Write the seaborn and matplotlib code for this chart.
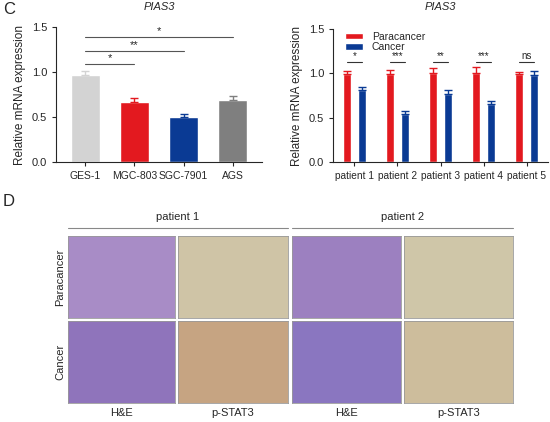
import matplotlib
matplotlib.use("Agg")
import matplotlib.pyplot as plt
import seaborn as sns
import pandas as pd
import numpy as np

cell_lines = ["GES-1", "MGC-803", "SGC-7901", "AGS"]
cell_values = [0.97, 0.67, 0.50, 0.69]
cell_errors = [0.04, 0.04, 0.03, 0.04]
cell_colors = ["#d3d3d3", "#e3191f", "#0a3a94", "#7f7f7f"]
cell_sig = [(0, 1, "*", 1.09), (0, 2, "**", 1.23), (0, 3, "*", 1.39)]

patients = ["patient 1", "patient 2", "patient 3", "patient 4", "patient 5"]
para_values = [0.99, 0.99, 1.00, 1.00, 0.99]
para_errors = [0.04, 0.05, 0.06, 0.07, 0.02]
cancer_values = [0.81, 0.54, 0.77, 0.65, 0.98]
cancer_errors = [0.04, 0.03, 0.04, 0.04, 0.05]
patient_sig = ["*", "***", "**", "***", "ns"]

tissue_rows = ["Paracancer", "Cancer"]
tissue_cols = ["H&E", "p-STAT3", "H&E", "p-STAT3"]
tissue_colors = [["#a88cc6", "#cfc4a6", "#9c80c0", "#cfc6a8"],
                 ["#8f74bb", "#c6a482", "#8a76c0", "#cdbd9c"]]

sns.set_style("ticks")
plt.rcParams["font.family"] = ["Liberation Sans", "DejaVu Sans"]

W, H = 550, 422
fig = plt.figure(figsize=(W / 100, H / 100), dpi=100)


def px_axes(x0, y0, x1, y1):
    return fig.add_axes([x0 / W, 1 - y1 / H, (x1 - x0) / W, (y1 - y0) / H])


# ---- panel C left
ax1 = px_axes(56, 27, 262, 162)
df1 = pd.DataFrame({"line": cell_lines, "value": cell_values})
sns.barplot(data=df1, x="line", y="value", hue="line", palette=cell_colors,
            legend=False, width=0.6, saturation=1, ax=ax1)
for i, (v, e, c) in enumerate(zip(cell_values, cell_errors, cell_colors)):
    ax1.errorbar(i, v, yerr=[[0], [e]], color=c, capsize=3, lw=1)
for a, b, s, y in cell_sig:
    ax1.plot([a, b], [y, y], color="#555555", lw=0.8, clip_on=False)
    ax1.text((a + b) / 2, y + 0.01, s, ha="center", va="bottom", fontsize=8)
ax1.set_ylim(0, 1.5)
ax1.set_yticks([0, 0.5, 1.0, 1.5])
ax1.set_xlim(-0.6, 3.6)
ax1.set_xlabel("")
ax1.set_ylabel("Relative mRNA expression", fontsize=8.5)
ax1.tick_params(axis="y", labelsize=8, length=3)
ax1.tick_params(axis="x", labelsize=7.5, length=3)
ax1.set_title("PIAS3", fontsize=8, style="italic", pad=12)
sns.despine(ax=ax1)

# ---- panel C right
ax2 = px_axes(333, 29, 548, 162)
df2 = pd.DataFrame({
    "patient": patients * 2,
    "value": para_values + cancer_values,
    "group": ["Paracancer"] * 5 + ["Cancer"] * 5,
})
sns.barplot(data=df2, x="patient", y="value", hue="group",
            palette=["#e3191f", "#0a3a94"], width=0.7, gap=0.45,
            saturation=1, ax=ax2)
for i in range(len(patients)):
    ax2.errorbar(i - 0.175, para_values[i], yerr=[[0], [para_errors[i]]],
                 color="#e3191f", capsize=3, lw=1)
    ax2.errorbar(i + 0.175, cancer_values[i], yerr=[[0], [cancer_errors[i]]],
                 color="#0a3a94", capsize=3, lw=1)
    ax2.plot([i - 0.175, i + 0.175], [1.13, 1.13], color="#333333", lw=0.8)
    ax2.text(i, 1.14, patient_sig[i], ha="center", va="bottom", fontsize=7)
ax2.set_ylim(0, 1.5)
ax2.set_yticks([0, 0.5, 1.0, 1.5])
ax2.set_xlabel("")
ax2.set_ylabel("Relative mRNA expression", fontsize=8.5)
ax2.tick_params(axis="y", labelsize=8, length=3)
ax2.tick_params(axis="x", labelsize=7.3, length=3)
ax2.set_title("PIAS3", fontsize=8, style="italic", pad=14)
ax2.legend(loc="upper left", bbox_to_anchor=(0.03, 1.02), frameon=False,
           fontsize=7.5, handlelength=1.8, handleheight=0.6,
           borderaxespad=0.1, labelspacing=0.05)
sns.despine(ax=ax2)

fig.text(0.005, 1 - 10 / H, "C", fontsize=12, va="center")
fig.text(0.005, 1 - 202 / H, "D", fontsize=12, va="center")

# ---- panel D tissue grid (solid placeholders for micrographs)
col_x = [(68, 175), (178, 288), (292, 401), (404, 513)]
row_y = [(236, 318), (321, 403)]
for r, (y0, y1) in enumerate(row_y):
    for c, (x0, x1) in enumerate(col_x):
        ax = px_axes(x0, y0, x1, y1)
        ax.set_facecolor(tissue_colors[r][c])
        ax.set_xticks([])
        ax.set_yticks([])
        for sp in ax.spines.values():
            sp.set_color("#999999")
            sp.set_linewidth(0.6)
    fig.text(60 / W, 1 - (y0 + y1) / 2 / H, tissue_rows[r], rotation=90,
             ha="center", va="center", fontsize=8)
for c, (x0, x1) in enumerate(col_x):
    fig.text((x0 + x1) / 2 / W, 1 - 413 / H, tissue_cols[c], ha="center",
             va="center", fontsize=8)

for k, (x0, x1) in enumerate([(68, 288), (292, 513)]):
    fig.add_artist(plt.Line2D([x0 / W, x1 / W], [1 - 228 / H] * 2,
                              color="#888888", lw=0.8))
    fig.text((x0 + x1) / 2 / W, 1 - 217 / H, f"patient {k + 1}", ha="center",
             va="center", fontsize=8)

fig.savefig("out.png", dpi=100)
